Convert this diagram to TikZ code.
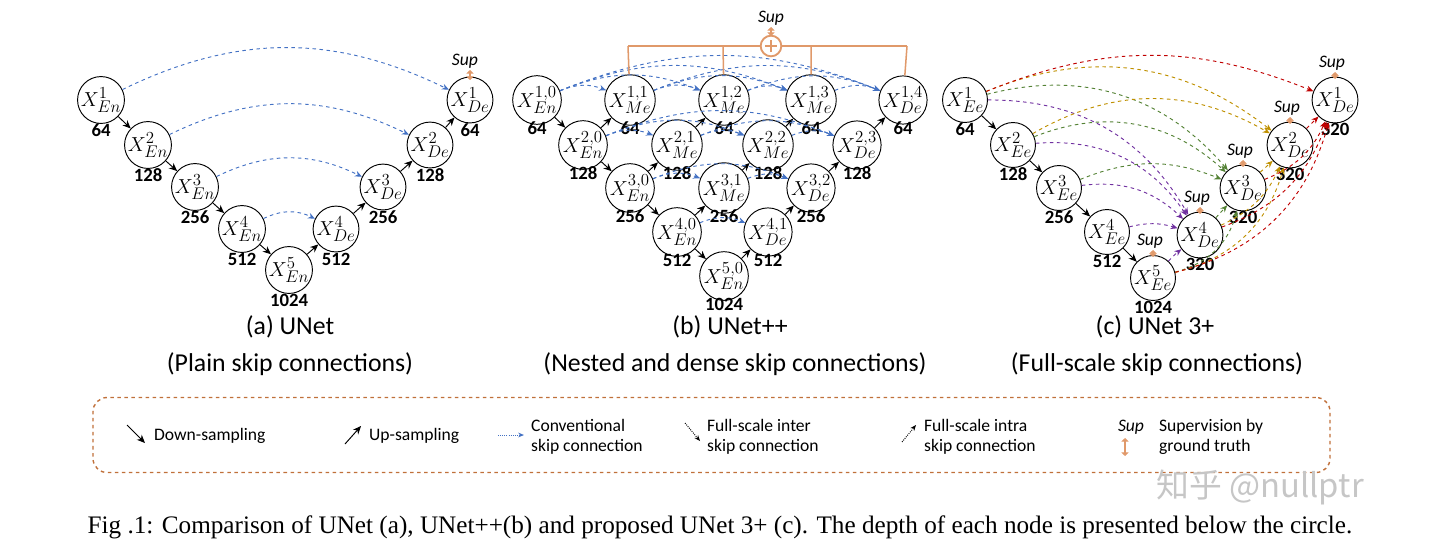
\documentclass[tikz,border=0pt]{standalone}
\usepackage{fontspec}
\setmainfont{Carlito}
\newfontfamily\tnr{Liberation Serif}
\newfontfamily\cjk{Noto Sans CJK SC}
\usetikzlibrary{arrows.meta}
\definecolor{skb}{HTML}{4472C4}
\definecolor{org}{HTML}{E0996A}
\definecolor{pur}{HTML}{7030A0}
\definecolor{grn}{HTML}{548235}
\definecolor{yel}{HTML}{BF9000}
\definecolor{red2}{HTML}{C00000}
\definecolor{brn}{HTML}{C0703A}
\begin{document}
\begin{tikzpicture}[x=0.03cm,y=-0.03cm,
 nd/.style={circle,draw,thick,minimum size=1.22cm,inner sep=0,font=\fontsize{19}{19}\selectfont},
 num/.style={font=\fontsize{16}{16}\selectfont\bfseries},
 dn/.style={thick,-{Stealth[length=7pt,width=6pt]}},
 skip/.style={skb,thick,dashed,-{Stealth[length=6pt,width=5pt]}},
 cs/.style={thick,dashed,-{Stealth[length=6pt,width=5pt]}},
 sup/.style={org,line width=2.5pt,{Triangle[length=3pt,width=6pt]}-{Triangle[length=3pt,width=6pt]}},
 supt/.style={font=\fontsize{15}{15}\selectfont\itshape},
 captxt/.style={font=\fontsize{22}{22}\selectfont}]
\useasboundingbox (0,0) rectangle (1440,551);
% ---------- (a)
\foreach \n/\x/\y/\l/\d in {aE1/101/100/{X^1_{En}}/64,aE2/148/145/{X^2_{En}}/128,aE3/195/187/{X^3_{En}}/256,aE4/242/229/{X^4_{En}}/512,aE5/289/270/{X^5_{En}}/1024,aD4/336/229/{X^4_{De}}/512,aD3/383/187/{X^3_{De}}/256,aD2/430/145/{X^2_{De}}/128,aD1/470/100/{X^1_{De}}/64}{
 \node[nd] (\n) at (\x,\y) {$\l$};
 \node[num] (\n n) at (\x,\y+30) {\d};}
\draw[dn] (aE1)--(aE2); \draw[dn] (aE2)--(aE3); \draw[dn] (aE3)--(aE4); \draw[dn] (aE4)--(aE5);
\draw[dn] (aE5)--(aD4); \draw[dn] (aD4)--(aD3); \draw[dn] (aD3)--(aD2); \draw[dn] (aD2)--(aD1);
\draw[skip] (aE1) to[bend left=26] (aD1);
\draw[skip] (aE2) to[bend left=26] (aD2);
\draw[skip] (aE3) to[bend left=26] (aD3);
\draw[skip] (aE4) to[bend left=26] (aD4);
\node[supt] (aS) at (465,61) {Sup};
\coordinate (aS1) at (470,70); \coordinate (aS2) at (470,80);
\draw[sup] (aS1)--(aS2);
% ---------- (b)
\foreach \n/\x/\y/\l/\d in {b10/537/100/{X^{1,0}_{En}}/64,b11/630/100/{X^{1,1}_{Me}}/64,b12/724/100/{X^{1,2}_{Me}}/64,b13/811/100/{X^{1,3}_{Me}}/64,b14/903/100/{X^{1,4}_{De}}/64,
 b20/583/145/{X^{2,0}_{En}}/128,b21/677/145/{X^{2,1}_{Me}}/128,b22/768/145/{X^{2,2}_{Me}}/128,b23/857/145/{X^{2,3}_{De}}/128,
 b30/630/188/{X^{3,0}_{En}}/256,b31/724/188/{X^{3,1}_{Me}}/256,b32/811/188/{X^{3,2}_{De}}/256,
 b40/677/232/{X^{4,0}_{En}}/512,b41/768/232/{X^{4,1}_{De}}/512,b50/724/276/{X^{5,0}_{En}}/1024}{
 \node[nd] (\n) at (\x,\y) {$\l$};
 \node[num] (\n n) at (\x,\y+28) {\d};}
\foreach \a/\b in {b10/b20,b20/b30,b30/b40,b40/b50,b50/b41,b41/b32,b32/b23,b23/b14,
 b40/b31,b31/b22,b22/b13,b30/b21,b21/b12,b20/b11}{\draw[dn] (\a)--(\b);}
\foreach \a/\b in {b10/b11,b10/b12,b10/b13,b10/b14,b11/b12,b11/b13,b11/b14,b12/b13,b12/b14,b13/b14,
 b20/b21,b20/b22,b20/b23,b21/b22,b21/b23,b22/b23,b30/b31,b30/b32,b31/b32,b40/b41}{\draw[skip] (\a) to[bend left=22] (\b);}
\node[circle,draw=org,line width=1.6pt,minimum size=0.62cm,inner sep=0] (plus) at (771,46) {};
\draw[org,line width=1.6pt] (plus.center)+(-6,0) -- +(6,0) (plus.center)+(0,-6) -- +(0,6);
\coordinate (o1) at (628,46); \coordinate (o4) at (907,46);
\coordinate (o2) at (723,46); \coordinate (o3) at (811,46);
\draw[org,line width=1.3pt] (o1)--(plus) (plus)--(o4);
\draw[org,line width=1.3pt] (o1)--(b11) (o2)--(b12) (o3)--(b13) (o4)--(b14);
\node[supt] (bS) at (771,18) {Sup};
\coordinate (bS1) at (771,27); \coordinate (bS2) at (771,36);
\draw[sup] (bS1)--(bS2);
% ---------- (c)
\foreach \n/\x/\y/\l/\d in {cE1/965/100/{X^1_{Ee}}/64,cE2/1013/145/{X^2_{Ee}}/128,cE3/1059/188/{X^3_{Ee}}/256,cE4/1107/232/{X^4_{Ee}}/512,cE5/1153/278/{X^5_{Ee}}/1024,
 cD4/1200/235/{X^4_{De}}/320,cD3/1243/188/{X^3_{De}}/320,cD2/1290/145/{X^2_{De}}/320,cD1/1335/100/{X^1_{De}}/320}{
 \node[nd] (\n) at (\x,\y) {$\l$};
 \node[num] (\n n) at (\x,\y+29) {\d};}
\draw[dn] (cE1)--(cE2); \draw[dn] (cE2)--(cE3); \draw[dn] (cE3)--(cE4); \draw[dn] (cE4)--(cE5);
\foreach \n/\x/\y in {cD1/1335/100,cD2/1290/145,cD3/1243/188,cD4/1200/235,cE5/1153/278}{
 \node[supt] (\n s) at (\x-3,\y-37) {Sup};
 \coordinate (\n a) at (\x,\y-28); \coordinate (\n b) at (\x,\y-21);
 \draw[sup] (\n a)--(\n b);}
% purple -> D4
\draw[cs,pur] (cE1) to[bend left=30] (cD4);
\draw[cs,pur] (cE2) to[bend left=30] (cD4);
\draw[cs,pur] (cE3) to[bend left=25] (cD4);
\draw[cs,pur] (cE4) to[bend left=15] (cD4);
\draw[cs,pur] (cE5) to[bend left=5] (cD4);
% green -> D3
\draw[cs,grn] (cE1) to[bend left=32] (cD3);
\draw[cs,grn] (cE2) to[bend left=32] (cD3);
\draw[cs,grn] (cE3) to[bend left=22] (cD3);
\draw[cs,grn] (cD4) to (cD3);
\draw[cs,grn] (cE5) to[bend right=30] (cD3);
% yellow -> D2
\draw[cs,yel] (cE1) to[bend left=30] (cD2);
\draw[cs,yel] (cE2) to[bend left=30] (cD2);
\draw[cs,yel] (cD3) to (cD2);
\draw[cs,yel] (cD4) to[bend right=20] (cD2);
\draw[cs,yel] (cE5) to[bend right=30] (cD2);
% red -> D1
\draw[cs,red2] (cE1) to[bend left=22] (cD1);
\draw[cs,red2] (cD2) to (cD1);
\draw[cs,red2] (cD3) to[bend right=22] (cD1);
\draw[cs,red2] (cD4) to[bend right=25] (cD1);
\draw[cs,red2] (cE5) to[bend right=30] (cD1);
% ---------- captions
\node[captxt] (ca1) at (290,327) {(a) UNet};
\node[captxt] (ca2) at (290,364) {(Plain skip connections)};
\node[captxt] (cb1) at (730,327) {(b) UNet++};
\node[captxt] (cb2) at (735,364) {(Nested and dense skip connections)};
\node[captxt] (cc1) at (1155,327) {(c) UNet 3+};
\node[captxt] (cc2) at (1157,364) {(Full-scale skip connections)};
% ---------- legend
\node[draw=brn,dashed,line width=1.2pt,rounded corners=12pt,minimum width=1237*0.03cm,minimum height=75*0.03cm] (leg) at (711.5,435) {};
\tikzset{lt/.style={font=\fontsize{15}{17}\selectfont,anchor=west,align=left}}
\coordinate (l1a) at (127,425); \coordinate (l1b) at (145,443);
\draw[dn] (l1a)--(l1b);
\node[lt] (l1) at (150,436) {Down-sampling};
\coordinate (l2a) at (345,444); \coordinate (l2b) at (361,426);
\draw[dn] (l2a)--(l2b);
\node[lt] (l2) at (365,436) {Up-sampling};
\coordinate (l3a) at (498,435); \coordinate (l3b) at (524,435);
\draw[skb,thick,densely dotted,-{Stealth[length=5pt,width=4pt]}] (l3a)--(l3b);
\node[lt] (l3) at (527,437) {Conventional\\skip connection};
\coordinate (l4a) at (685,423); \coordinate (l4b) at (700,441);
\draw[thick,densely dotted,-{Stealth[length=5pt,width=4pt]}] (l4a)--(l4b);
\node[lt] (l4) at (703,437) {Full-scale inter\\skip connection};
\coordinate (l5a) at (902,442); \coordinate (l5b) at (916,425);
\draw[thick,densely dotted,-{Stealth[length=5pt,width=4pt]}] (l5a)--(l5b);
\node[lt] (l5) at (920,437) {Full-scale intra\\skip connection};
\node[supt] (l6s) at (1131,427) {Sup};
\coordinate (l6a) at (1125,438); \coordinate (l6b) at (1125,456);
\draw[sup] (l6a)--(l6b);
\node[lt] (l6) at (1155,437) {Supervision by\\ground truth};
% watermark
\node[gray!45,font=\fontsize{28}{28}\cjk] (wm) at (1260,487) {知乎 @nullptr};
% figure caption
\node[font=\fontsize{21.5}{22}\tnr] (fig) at (720,527) {Fig .1: Comparison of UNet (a), UNet++(b) and proposed UNet 3+ (c). The depth of each node is presented below the circle.};
\end{tikzpicture}
\end{document}
